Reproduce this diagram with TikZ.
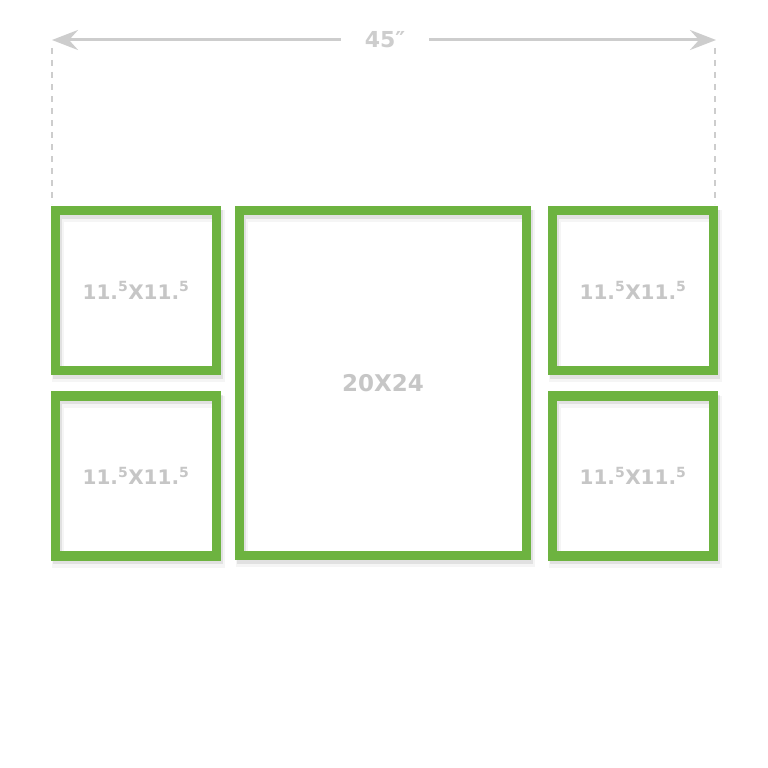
\documentclass[tikz,border=0pt]{standalone}
\usepackage{fontspec}
\setmainfont{DejaVu Sans}
\usetikzlibrary{arrows.meta,backgrounds}
\definecolor{frameg}{HTML}{6DB340}
\definecolor{labg}{HTML}{C6C6C6}
\definecolor{dimg}{HTML}{CDCDCD}
\tikzset{
  frame/.style={draw=frameg, line width=9.5pt, fill=none, rectangle, inner sep=0pt, outer sep=0pt, text=labg},
  smallframe/.style={frame, minimum width=161pt, minimum height=160pt, font=\fontsize{20}{20}\selectfont\bfseries},
  shadowline/.style={draw=black, line width=9pt, opacity=0.08},
  dimline/.style={draw=dimg, line width=3pt},
  dimarrow/.style={dimline, -{Stealth[length=26pt,width=20pt,inset=9pt]}},
  extline/.style={draw=dimg, line width=2pt, dash pattern=on 6pt off 6pt},
}
\begin{document}
\begin{tikzpicture}[x=1pt,y=-1pt]
\useasboundingbox (0,0) rectangle (768,768);
% frames
\node[smallframe] (lt) at (136,290.5) {11.\textsuperscript{5}X11.\textsuperscript{5}};
\node[smallframe] (lb) at (136,476) {11.\textsuperscript{5}X11.\textsuperscript{5}};
\node[frame, minimum width=287pt, minimum height=345pt, font=\fontsize{23}{23}\selectfont\bfseries] (c) at (383,383) {20X24};
\node[smallframe] (rt) at (633,290.5) {11.\textsuperscript{5}X11.\textsuperscript{5}};
\node[smallframe] (rb) at (633,476) {11.\textsuperscript{5}X11.\textsuperscript{5}};
% shadows
\begin{scope}[on background layer]
\fill[white] (0,0) rectangle (768,768);
\foreach \n in {lt,lb,c,rt,rb}{
  \draw[shadowline, opacity=0.04, line width=12pt] ([shift={(2.5,5.5)}]\n.north west) rectangle ([shift={(2.5,5.5)}]\n.south east);
  \draw[shadowline] ([shift={(1.5,3.5)}]\n.north west) rectangle ([shift={(1.5,3.5)}]\n.south east);
}
\end{scope}
% dimension
\coordinate (aL) at (52,40);
\coordinate (aR) at (716,40);
\coordinate (dL) at (52,48);
\coordinate (dR) at (715,48);
\coordinate (eL) at (52,204);
\coordinate (eR) at (715,204);
\node[font=\fontsize{22}{22}\selectfont\bfseries, text=dimg, inner sep=0pt, minimum width=88pt] (lbl) at (385,40) {45″};
\draw[dimarrow] (lbl.west) -- (aL);
\draw[dimarrow] (lbl.east) -- (aR);
\draw[extline] (dL) -- (eL);
\draw[extline] (dR) -- (eR);
\end{tikzpicture}
\end{document}
